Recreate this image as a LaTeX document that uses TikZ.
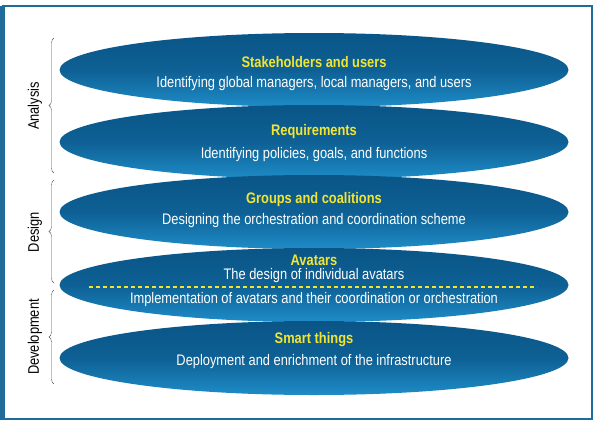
\documentclass[tikz,border=0pt]{standalone}
\usepackage{fontspec}
\setmainfont{Liberation Sans}[FakeStretch=0.84]
\usepackage{xcolor}
\usetikzlibrary{positioning,calc,shapes.geometric,decorations.pathreplacing}

\definecolor{ellDark}{HTML}{0A5587}
\definecolor{ellLight}{HTML}{1E8CC8}
\definecolor{frameBlue}{HTML}{1F6B9A}
\definecolor{titleYellow}{HTML}{F2E532}
\definecolor{braceGray}{HTML}{555555}

\tikzset{
    layer/.style={ellipse, minimum width=509pt, minimum height=74pt, inner sep=0pt,
        top color=ellDark, bottom color=ellLight, middle color=ellDark!80!ellLight},
    title/.style={text=titleYellow, inner sep=0pt, font=\fontsize{15.3}{17}\selectfont\bfseries},
    sub/.style={text=white, inner sep=0pt, font=\fontsize{15.3}{17}\selectfont},
    phase/.style={font=\fontsize{15.3}{17}\selectfont, rotate=90},
    bracket/.style={draw=braceGray, thin, decorate, decoration={brace, amplitude=5pt}}
}

\begin{document}
\begin{tikzpicture}[x=1pt, y=-1pt]
    \useasboundingbox (0,0) rectangle (599,426);
    % Frame
    \fill[white] (0,0) rectangle (599,426);
    \draw[frameBlue, line width=1.2pt] (3,6) rectangle (592,419);
    \fill[frameBlue] (0,6) rectangle (4.5,420);

    % Layers
    \node[layer] (stake) at (314, 70) {};
    \node[layer] (req) at (314, 142) {};
    \node[layer] (groups) at (314, 212) {};
    \node[layer] (avatars) at (314, 285) {};
    \node[layer] (smart) at (314, 358) {};

    % Texts
    \node[title] (stakeT) at (314, 62) {Stakeholders and users};
    \node[sub] (stakeS) at (314, 84) {Identifying global managers, local managers, and users};
    \node[title] (reqT) at (314, 132) {Requirements};
    \node[sub] (reqS) at (314, 155) {Identifying policies, goals, and functions};
    \node[title] (groupsT) at (314, 200) {Groups and coalitions};
    \node[sub] (groupsS) at (314, 221) {Designing the orchestration and coordination scheme};
    \node[title] (avatarsT) at (314, 260.5) {Avatars};
    \node[sub] (avatarsS) at (314, 276) {The design of individual avatars};
    \node[sub] (avatarsI) at (314, 300) {Implementation of avatars and their coordination or orchestration};
    \node[title] (smartT) at (314, 340) {Smart things};
    \node[sub] (smartS) at (314, 362) {Deployment and enrichment of the infrastructure};

    % Dashed split
    \coordinate (splitL) at (89, 287);
    \coordinate (splitR) at (537, 287);
    \draw[titleYellow, line width=1.4pt, dash pattern=on 4pt off 3pt] (splitL) -- (splitR);

    % Phases
    \coordinate (anaB) at (54, 173);
    \coordinate (anaT) at (54, 38);
    \coordinate (desB) at (54, 283);
    \coordinate (desT) at (54, 180);
    \coordinate (devB) at (54, 384);
    \coordinate (devT) at (54, 290);
    \draw[bracket] (anaB) -- (anaT);
    \draw[bracket] (desB) -- (desT);
    \draw[bracket] (devB) -- (devT);
    \node[phase] (ana) at (35, 106) {Analysis};
    \node[phase] (des) at (35, 232) {Design};
    \node[phase] (dev) at (35, 337) {Development};
\end{tikzpicture}
\end{document}
